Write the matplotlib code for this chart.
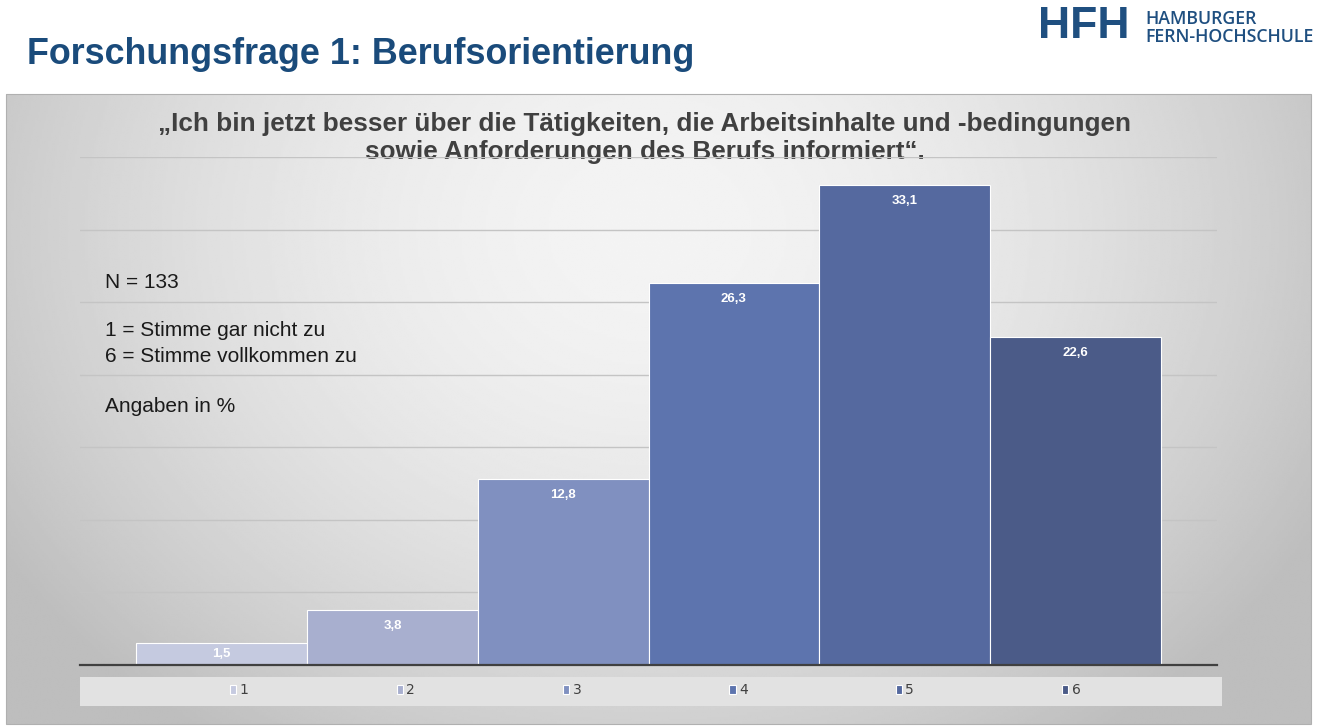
import numpy as np
import matplotlib.pyplot as plt
from matplotlib.patches import Rectangle

# Daten (Angaben in %)
kategorien = ['1', '2', '3', '4', '5', '6']
werte = [1.5, 3.8, 12.8, 26.3, 33.1, 22.6]
farben = ['#c5cae0', '#a8afcf', '#8090c0', '#5d74ae', '#55699f', '#4b5b88']

W, H = 1320, 726
fig = plt.figure(figsize=(W / 100, H / 100), dpi=100)
fig.patch.set_facecolor('white')

# Hintergrund in Pixelkoordinaten
bg = fig.add_axes([0, 0, 1, 1])
bg.set_xlim(0, W)
bg.set_ylim(H, 0)
bg.axis('off')

# grauer Kasten mit radialem Verlauf
px0, px1, py0, py1 = 6, 1311, 94, 724
xx, yy = np.meshgrid(np.linspace(px0, px1, 600), np.linspace(py0, py1, 300))
d = np.sqrt(((xx - 650) / 760) ** 2 + ((yy - 230) / 620) ** 2)
d = np.clip(d, 0, 1)
grau = 0.955 - 0.21 * d ** 1.8
bg.imshow(grau, cmap='gray', vmin=0, vmax=1, extent=(px0, px1, py1, py0),
          aspect='auto', interpolation='bilinear', zorder=0)
bg.add_patch(Rectangle((px0, py0), px1 - px0, py1 - py0, fill=False,
                       edgecolor='#b0b0b0', lw=0.8, zorder=1))
# Legendenband
bg.add_patch(Rectangle((80, 677), 1142, 29, facecolor='#e2e2e2',
                       edgecolor='none', zorder=1))

# Überschrift
bg.text(27, 55, 'Forschungsfrage 1: Berufsorientierung', fontsize=25.8,
        fontweight='bold', color='#1a4b7b', family='Liberation Sans',
        va='center', ha='left')

# Logo
bg.text(1038, 27, 'HFH', fontsize=32, fontweight='bold', color='#1f4f80',
        family='Liberation Sans', va='center', ha='left')
bg.text(1145, 19, 'HAMBURGER', fontsize=12.8, color='#1f4f80',
        family='Open Sans', fontweight='semibold', va='center', ha='left')
bg.text(1145, 37, 'FERN-HOCHSCHULE', fontsize=12.8, color='#1f4f80',
        family='Open Sans', fontweight='semibold', va='center', ha='left')

# Diagramm
ax = fig.add_axes([80 / W, 1 - 665 / H, (1217 - 80) / W, (665 - 157) / H])
ax.patch.set_alpha(0)
x = np.arange(len(werte))
balken = ax.bar(x, werte, width=1.0, color=farben, edgecolor='white',
                linewidth=0.8, zorder=3, label=kategorien)
ax.set_xlim(-0.83, 5.83)
ax.set_ylim(0, 35)
ax.set_yticks(np.arange(5, 36, 5))
ax.yaxis.grid(True, color='#c4c4c4', lw=1.0, zorder=0)
ax.tick_params(left=False, bottom=False, labelleft=False, labelbottom=False)
for s in ['top', 'right', 'left']:
    ax.spines[s].set_visible(False)
ax.spines['bottom'].set_color('#404040')
ax.spines['bottom'].set_linewidth(1.6)
ax.spines['bottom'].set_zorder(4)

for xi, v in zip(x, werte):
    ax.text(xi, max(v - 1.1, v / 2), f'{v:.1f}'.replace('.', ','),
            ha='center', va='center', color='white', fontsize=9.5,
            fontweight='bold', family='Liberation Sans', zorder=5)

leg = ax.legend(balken, kategorien, ncol=6, loc='center',
                bbox_to_anchor=(0.506, -0.05), frameon=False,
                handlelength=0.45, handleheight=0.7, handletextpad=0.25,
                columnspacing=10.65,
                prop={'family': 'Liberation Sans Narrow', 'size': 10})
for t in leg.get_texts():
    t.set_color('#404040')

# Diagrammtitel
bg.text(645, 138, '„Ich bin jetzt besser über die Tätigkeiten, die Arbeitsinhalte und -bedingungen\n'
        'sowie Anforderungen des Berufs informiert“.', fontsize=18.8,
        fontweight='bold', color='#404040', family='Liberation Sans',
        ha='center', va='center', linespacing=1.17, zorder=6)

# Hinweise
for txt, yp in [('N = 133', 282), ('1 = Stimme gar nicht zu', 331),
                ('6 = Stimme vollkommen zu', 357), ('Angaben in %', 407)]:
    bg.text(105, yp, txt, fontsize=15, color='#1a1a1a',
            family='Liberation Sans', va='center', ha='left', zorder=6)

fig.savefig('out.png', dpi=100)
